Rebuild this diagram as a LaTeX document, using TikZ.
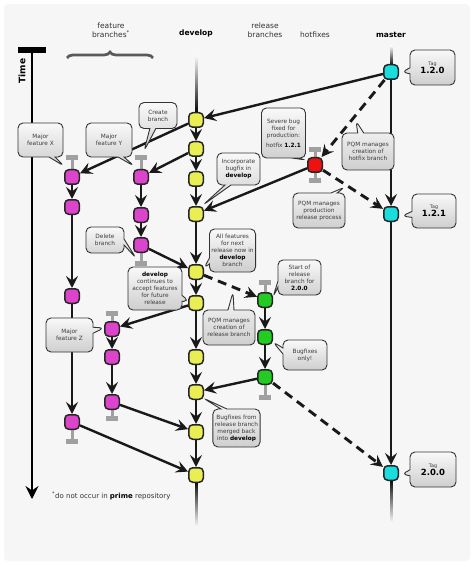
\documentclass[tikz,border=0pt]{standalone}
\usepackage{fontspec}
\setmainfont{DejaVu Sans}
\usetikzlibrary{arrows.meta, shapes.callouts, decorations.pathreplacing}

\definecolor{bgc}{RGB}{246,246,246}
\definecolor{devc}{RGB}{232,238,84}
\definecolor{featc}{RGB}{221,68,204}
\definecolor{relc}{RGB}{34,204,34}
\definecolor{hotc}{RGB}{238,17,17}
\definecolor{mastc}{RGB}{26,221,221}
\definecolor{markc}{RGB}{160,160,160}
\definecolor{notetext}{RGB}{60,60,60}

\newcommand\gmark[3]{%
  \fill[markc] (#1-1.5,#2) rectangle (#1+1.5,#3);
  \fill[markc] (#1-6,#2-2.5) rectangle (#1+6,#2+2.5);}

\tikzset{
  commit/.style={rectangle, rounded corners=4pt, draw=black!85, line width=1.5pt,
    minimum size=14.5pt, inner sep=0pt},
  devnode/.style={commit, fill=devc},
  featnode/.style={commit, fill=featc},
  relnode/.style={commit, fill=relc},
  hotnode/.style={commit, fill=hotc},
  mastnode/.style={commit, fill=mastc},
  conn/.style={line width=2.4pt, draw=black!90,
    -{Stealth[length=12pt,width=12pt,inset=4.5pt]}},
  dashconn/.style={conn, line width=2.9pt, dash pattern=on 9pt off 6pt},
  note/.style={rectangle callout, rounded corners=5pt, draw=black!80, line width=0.9pt,
    top color=gray!5, bottom color=gray!38, align=center, text=notetext,
    font=\fontsize{5.8}{7}\selectfont, inner sep=2pt, callout pointer width=6pt},
  header/.style={align=center, font=\fontsize{7.5}{9}\selectfont, text=black!80},
}

\begin{document}
\begin{tikzpicture}[x=1pt, y=-1pt]
\useasboundingbox (0,0) rectangle (474,569);
\fill[white] (0,0) rectangle (474,569);
\fill[bgc, rounded corners=4pt] (4,4) rectangle (470,561);

% headers
\node[header] (hfeat) at (111,30) {feature\\branches\textsuperscript{*}};
\node[header, font=\bfseries\fontsize{7.5}{9}\selectfont, text=black] (hdev) at (196,33) {develop};
\node[header] (hrel) at (265,30) {release\\branches};
\node[header] (hhot) at (315,35) {hotfixes};
\node[header, font=\bfseries\fontsize{7.5}{9}\selectfont, text=black] (hmast) at (391,35) {master};
\draw[gray!70!black, line width=2.7pt, decorate, decoration={brace, amplitude=6pt}]
  (67,58) -- (153,58);

% time axis
\fill[black] (18,47.5) rectangle (46,53);
\draw[line width=2pt, -{Stealth[length=13pt,width=13pt,inset=4.5pt]}] (32,50) -- (32,499);
\node[rotate=90, font=\bfseries\fontsize{9}{9}\selectfont] (time) at (22,71) {Time};

% faded ends of develop and master lines
\shade[top color=bgc, bottom color=black] (195,56) rectangle (197.4,114);
\shade[top color=black, bottom color=bgc] (195,480) rectangle (197.4,526);
\shade[top color=bgc, bottom color=black] (390,46) rectangle (392.4,66);
\shade[top color=black, bottom color=bgc] (390,478) rectangle (392.4,522);

% markers
\gmark{72}{158}{177}
\gmark{141}{158}{177}
\gmark{141}{263}{245}
\gmark{112}{313}{329}
\gmark{112}{418}{402}
\gmark{72}{441}{422}
\gmark{265}{282}{300}
\gmark{265}{397}{377}
\gmark{315}{150}{165}
\gmark{315}{181}{165}

% commits
\node[devnode] (d1) at (196,120) {};
\node[devnode] (d2) at (196,149) {};
\node[devnode] (d3) at (196,179) {};
\node[devnode] (d4) at (196,214) {};
\node[devnode] (d5) at (196,272) {};
\node[devnode] (d6) at (196,303) {};
\node[devnode] (d7) at (196,357) {};
\node[devnode] (d8) at (196,392) {};
\node[devnode] (d9) at (196,432) {};
\node[devnode] (d10) at (196,475) {};

\node[featnode] (x1) at (72,177) {};
\node[featnode] (x2) at (72,207) {};
\node[featnode] (x3) at (72,296) {};
\node[featnode] (x4) at (72,422) {};
\node[featnode] (y1) at (141,177) {};
\node[featnode] (y2) at (141,215) {};
\node[featnode] (y3) at (141,245) {};
\node[featnode] (z1) at (112,329) {};
\node[featnode] (z2) at (112,357) {};
\node[featnode] (z3) at (112,402) {};

\node[relnode] (r1) at (265,300) {};
\node[relnode] (r2) at (265,337) {};
\node[relnode] (r3) at (265,377) {};

\node[hotnode] (h1) at (315,165) {};

\node[mastnode] (m1) at (391,72) {};
\node[mastnode] (m2) at (391,214) {};
\node[mastnode] (m3) at (391,473) {};

% connectors
\draw[conn] (m1) -- (d1);
\draw[conn] (d1) -- (d2);
\draw[conn] (d2) -- (d3);
\draw[conn] (d3) -- (d4);
\draw[conn] (d4) -- (d5);
\draw[conn] (d5) -- (d6);
\draw[conn] (d6) -- (d7);
\draw[conn] (d7) -- (d8);
\draw[conn] (d8) -- (d9);
\draw[conn] (d9) -- (d10);

\draw[conn] (d1) -- (x1);
\draw[conn] (d2) -- (y1);
\draw[conn] (x1) -- (x2);
\draw[conn] (x2) -- (x3);
\draw[conn] (x3) -- (x4);
\draw[conn] (y1) -- (y2);
\draw[conn] (y2) -- (y3);
\draw[conn] (y3) -- (d5);
\draw[conn] (d6) -- (z1);
\draw[conn] (z1) -- (z2);
\draw[conn] (z2) -- (z3);
\draw[conn] (z3) -- (d9);
\draw[conn] (x4) -- (d10);

\draw[conn] (m1) -- (m2);
\draw[conn] (m2) -- (m3);
\draw[dashconn] (m1) -- (h1);
\draw[dashconn] (h1) -- (m2);
\draw[conn] (h1) -- (d4);

\draw[dashconn] (d5) -- (r1);
\draw[conn] (r1) -- (r2);
\draw[conn] (r2) -- (r3);
\draw[conn] (r3) -- (d8);
\draw[dashconn] (r3) -- (m3);

% callouts
\node[note, minimum width=45pt, minimum height=34pt, callout absolute pointer={(64,166)}] (cx) at (40.5,140) {Major\\feature X};
\node[note, minimum width=46pt, minimum height=34pt, callout absolute pointer={(134,166)}] (cy) at (109,140) {Major\\feature Y};
\node[note, minimum width=38pt, minimum height=26pt, callout absolute pointer={(144,151)}] (ccreate) at (158,115.5) {Create\\branch};
\node[note, minimum width=44pt, minimum height=50pt, callout absolute pointer={(306,160)}] (csevere) at (283.5,133) {Severe bug\\fixed for\\production:\\[3pt]hotfix {\bfseries\color{black}1.2.1}};
\node[note, minimum width=52pt, minimum height=37pt, callout absolute pointer={(356,121)}] (cpqmh) at (368,151.5) {PQM manages\\creation of\\hotfix branch};
\node[note, minimum width=52pt, minimum height=35pt, callout absolute pointer={(345,187)}] (cpqmp) at (319,210.5) {PQM manages\\production\\release process};
\node[note, minimum width=45pt, minimum height=35pt, callout absolute pointer={(402,72)}] (ct1) at (432.5,67.5) {{\fontsize{4.8}{5.5}\selectfont Tag}\\{\bfseries\fontsize{8.5}{10}\selectfont\color{black}1.2.0}};
\node[note, minimum width=44pt, minimum height=34pt, callout absolute pointer={(402,216)}] (ct2) at (434,211) {{\fontsize{4.8}{5.5}\selectfont Tag}\\{\bfseries\fontsize{8.5}{10}\selectfont\color{black}1.2.1}};
\node[note, minimum width=46pt, minimum height=35pt, callout absolute pointer={(402,474)}] (ct3) at (433,469.5) {{\fontsize{4.8}{5.5}\selectfont Tag}\\{\bfseries\fontsize{8.5}{10}\selectfont\color{black}2.0.0}};
\node[note, minimum width=43pt, minimum height=32pt, callout absolute pointer={(203,205)}] (cinc) at (238.5,169) {Incorporate\\bugfix in\\{\bfseries\color{black}develop}};
\node[note, minimum width=43pt, minimum height=43pt, callout absolute pointer={(204,268)}] (call) at (232.5,250.5) {All features\\for next\\release now in\\{\bfseries\color{black}develop}\\branch};
\node[note, minimum width=54pt, minimum height=43pt, callout absolute pointer={(189,301)}] (ccont) at (155,288.5) {{\bfseries\color{black}develop}\\continues to\\accept features\\for future\\release};
\node[note, minimum width=52pt, minimum height=35pt, callout absolute pointer={(233,292)}] (cpqmr) at (229,327.5) {PQM manages\\creation of\\release branch};
\node[note, minimum width=43pt, minimum height=35pt, callout absolute pointer={(273,297)}] (cstart) at (299.5,277.5) {Start of\\release\\branch for\\{\bfseries\color{black}2.0.0}};
\node[note, minimum width=44pt, minimum height=30pt, callout absolute pointer={(273,342)}] (cbugonly) at (305,355) {Bugfixes\\only!};
\node[note, minimum width=47pt, minimum height=38pt, callout absolute pointer={(203,398)}] (cbugback) at (236.5,428) {Bugfixes from\\release branch\\merged back\\into {\bfseries\color{black}develop}};
\node[note, minimum width=38pt, minimum height=26pt, callout absolute pointer={(136,258)}] (cdel) at (105,240) {Delete\\branch};
\node[note, minimum width=47pt, minimum height=34pt, callout absolute pointer={(104,328)}] (cz) at (69.5,335) {Major\\feature Z};

% footnote
\node[anchor=west, font=\fontsize{7}{8}\selectfont, text=black!80, inner sep=0pt] (foot) at (52,496) {\textsuperscript{*}do not occur in {\bfseries\color{black}prime} repository};
\end{tikzpicture}
\end{document}
